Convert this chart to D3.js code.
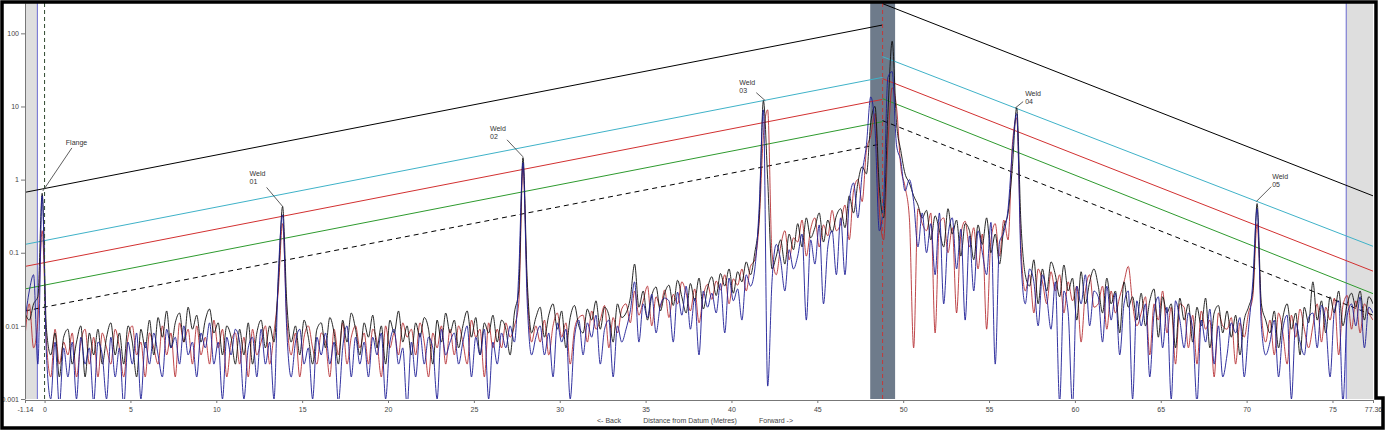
<!DOCTYPE html>
<html><head><meta charset="utf-8">
<script src="https://cdn.jsdelivr.net/npm/d3@7"></script>
<style>html,body{margin:0;padding:0;background:#fff;}svg{display:block;}text{font-family:"Liberation Sans",Arial,sans-serif;}</style>
</head><body><svg id="c" width="1387" height="431"></svg>
<script>
// ---------- data ----------
const xStart = -1.14, xEnd = 77.36, sampleStep = 0.25;
const xTicks = [-1.14, 0, 5, 10, 15, 20, 25, 30, 35, 40, 45, 50, 55, 60, 65, 70, 75, 77.36];
const yTicks = [0.001, 0.01, 0.1, 1, 10, 100];
const yTickLabels = ["0.001", "0.01", "0.1", "1", "10", "100"];
const xTitle = "Distance from Datum (Metres)";
const backLabel = "<- Back", forwardLabel = "Forward ->";

const traceBlack = [
.015,.012,.02,.025,.65,.009,.004,.008,.002,.007,
.009,.003,.006,.010,.002,.008,.004,.009,.003,.007,
.011,.004,.008,.003,.010,.006,.002,.009,.005,.012,
.004,.013,.007,.016,.005,.011,.015,.006,.018,.009,
.014,.006,.012,.017,.008,.011,.004,.010,.007,.003,
.009,.004,.011,.003,.008,.012,.005,.010,.006,.04,
.43,.02,.006,.010,.004,.012,.007,.003,.009,.011,
.005,.013,.008,.003,.012,.006,.015,.009,.004,.011,
.007,.014,.005,.010,.003,.012,.008,.016,.006,.010,
.004,.011,.007,.013,.009,.003,.012,.006,.015,.008,
.012,.005,.010,.016,.007,.013,.004,.011,.008,.014,
.006,.012,.009,.004,.015,.03,2.0,.04,.008,.013,
.018,.007,.014,.020,.009,.016,.005,.013,.019,.010,
.008,.017,.012,.022,.009,.018,.014,.006,.020,.013,
.015,.024,.07,.018,.030,.012,.026,.034,.016,.028,
.036,.019,.042,.025,.015,.038,.022,.045,.017,.033,
.047,.026,.052,.035,.060,.028,.055,.040,.075,.050,
.10,.30,12,1.0,.06,.09,.15,.07,.18,.11,
.25,.12,.30,.16,.22,.35,.14,.28,.19,.32,
.40,.22,.6,.35,.9,1.5,1.2,6,10,.8,
.3,8,78,6,2.5,1.2,.9,.6,.45,.3,
.38,.15,.32,.20,.12,.40,.18,.28,.09,.25,
.20,.08,.24,.13,.30,.10,.18,.07,.22,.35,
1.5,9.6,.25,.05,.035,.08,.02,.06,.03,.075,
.05,.025,.068,.03,.045,.012,.055,.02,.04,.06,
.035,.015,.045,.02,.03,.008,.04,.018,.025,.012,
.028,.01,.022,.032,.007,.025,.015,.02,.005,.024,
.012,.02,.006,.018,.01,.024,.005,.015,.019,.008,
.016,.007,.014,.004,.012,.018,.03,.47,.02,.012,
.008,.016,.005,.013,.02,.009,.015,.004,.018,.011,
.04,.012,.022,.008,.025,.015,.03,.01,.02,.028,
.018,.03,.012,.025,.02];

const traceRed = [
.007,.02,.005,.012,.2,.006,.002,.009,.003,.006,
.004,.008,.002,.006,.009,.003,.007,.002,.008,.005,
.003,.009,.005,.002,.007,.010,.004,.006,.002,.008,
.005,.003,.010,.004,.008,.002,.011,.006,.009,.003,
.010,.004,.007,.003,.012,.005,.009,.002,.006,.008,
.003,.007,.002,.009,.004,.006,.010,.003,.008,.03,
.25,.012,.004,.008,.002,.007,.010,.005,.003,.008,
.006,.002,.009,.004,.011,.003,.007,.010,.005,.008,
.003,.009,.006,.002,.010,.005,.008,.004,.011,.007,
.009,.004,.011,.006,.002,.008,.005,.010,.003,.009,
.004,.010,.006,.003,.012,.007,.009,.002,.011,.005,
.009,.005,.011,.007,.010,.02,1.5,.03,.006,.010,
.006,.012,.004,.010,.015,.007,.011,.003,.009,.013,
.014,.006,.016,.009,.012,.019,.005,.013,.008,.017,
.020,.011,.030,.014,.022,.035,.010,.025,.018,.031,
.013,.027,.020,.040,.028,.016,.032,.011,.026,.037,
.023,.041,.031,.050,.020,.044,.036,.060,.030,.065,
.08,.25,4,9,.10,.05,.12,.20,.08,.16,
.14,.28,.09,.21,.30,.12,.24,.17,.38,.20,
.25,.45,.15,.7,1.0,.5,2.5,4,8,.4,
.15,3,18,10,1.5,.8,.3,.005,.4,.25,
.20,.35,.008,.25,.30,.10,.22,.015,.18,.27,
.12,.22,.06,.18,.009,.15,.25,.09,.28,.15,
3,7,.12,.03,.05,.015,.06,.04,.02,.055,
.03,.05,.015,.04,.022,.035,.006,.03,.05,.018,
.02,.035,.009,.03,.015,.025,.04,.065,.02,.01,
.015,.025,.004,.02,.012,.03,.008,.018,.003,.02,
.018,.005,.014,.003,.016,.009,.012,.002,.015,.01,
.009,.013,.003,.011,.007,.015,.025,.25,.015,.006,
.012,.004,.015,.008,.003,.014,.007,.017,.009,.005,
.01,.02,.006,.018,.012,.024,.004,.019,.026,.009,
.022,.008,.02,.015,.012];

const traceBlue = [
.012,.03,.05,.003,.6,.004,.001,.006,.0008,.005,
.002,.006,.001,.007,.003,.005,.0009,.006,.004,.001,
.007,.002,.005,.0008,.006,.003,.008,.001,.006,.003,
.008,.004,.002,.009,.005,.007,.003,.010,.004,.006,
.002,.008,.005,.011,.003,.006,.001,.007,.004,.009,
.006,.001,.005,.007,.002,.009,.003,.006,.001,.05,
.33,.008,.002,.006,.009,.003,.005,.001,.007,.004,
.008,.003,.006,.0009,.005,.010,.002,.007,.003,.006,
.002,.007,.004,.008,.001,.006,.009,.003,.005,.0008,
.006,.002,.008,.003,.007,.005,.001,.009,.004,.006,
.008,.003,.006,.010,.002,.007,.004,.009,.001,.006,
.003,.008,.005,.010,.006,.05,1.7,.02,.004,.007,
.010,.004,.008,.002,.011,.006,.009,.001,.007,.012,
.004,.011,.007,.014,.003,.009,.012,.002,.010,.006,
.009,.016,.040,.006,.020,.013,.027,.008,.019,.024,
.022,.006,.029,.014,.035,.009,.024,.004,.030,.018,
.028,.015,.038,.008,.045,.022,.032,.012,.050,.035,
.06,.40,9,.0015,.04,.13,.08,.03,.11,.06,
.09,.18,.012,.15,.07,.24,.02,.12,.20,.05,
.3,.05,.5,.9,.3,1.2,3,13.5,5,.2,
.5,25,30,3,1.8,.7,1.0,.5,.12,.35,
.10,.25,.05,.35,.02,.17,.30,.06,.21,.012,
.17,.03,.20,.10,.05,.26,.003,.14,.19,.4,
2.5,8,.08,.02,.06,.04,.01,.05,.025,.009,
.04,.0009,.03,.015,.0008,.035,.02,.05,.01,.03,
.025,.006,.035,.012,.028,.004,.02,.03,.001,.022,
.01,.02,.002,.015,.025,.005,.018,.001,.022,.012,
.005,.015,.009,.0009,.012,.006,.017,.003,.01,.002,
.004,.011,.008,.013,.002,.009,.04,.40,.01,.004,
.006,.012,.002,.009,.014,.001,.011,.006,.004,.013,
.015,.005,.019,.011,.002,.016,.022,.0009,.014,.02,
.01,.025,.005,.018,.015];

// DAC / threshold lines (value at start and end of each side)
const dacNames = ["limit", "upper", "middle", "lower", "reference"];
const dacLeftX = [-1.14, 48.8];
const dacLeftStart = [0.67, 0.13, 0.065, 0.032, 0.016];
const dacLeftEnd = [130, 25, 12.5, 6.2, 3.1];
const dacRightX = [48.8, 77.36];
const dacRightStart = [255, 48, 24, 12.8, 6.4];
const dacRightEnd = [0.6, 0.1225, 0.056, 0.0276, 0.014];

// zones and markers (metres)
const endZones = [[-1.14, -0.42], [75.8, 77.36]];
const testZone = [48.08, 49.53];
const datumX = 0, testCentreX = 48.8;

// features
const featureNames = ["Flange", "Weld\n01", "Weld\n02", "Weld\n03", "Weld\n04", "Weld\n05"];
const featureX = [-0.1, 13.86, 27.86, 41.97, 56.52, 70.56];
const featureValue = [0.7, 0.43, 2.05, 12, 9.5, 0.5];

// ---------- styles / layout ----------
const dacColors = ["#000000", "#3fb2c8", "#d23030", "#2e9a2e", "#000000"];
const dacDash = [null, null, null, null, "5,4"];
const traceStyles = [
  {data: traceRed, color: "#b3262a", op: 0.85},
  {data: traceBlack, color: "#111111", op: 0.9},
  {data: traceBlue, color: "#1d1d96", op: 0.9}
];
// [text dx, text dy, leader dx, leader dy] relative to the feature peak
const labelOffsets = [[23, -46, 29, -43], [-33, -30, -16, -19], [-33, -26, -16, -17], [-26, -16, -9, -8], [10, -12.5, 8, -6.5], [16, -23, 15, -15]];

const plot = {left: 25, right: 1373, top: 3, bottom: 399};
const svg = d3.select("#c");
svg.append("rect").attr("width", 1387).attr("height", 431).attr("fill", "#fff");

const x = d3.scaleLinear().domain([xStart, xEnd]).range([plot.left, plot.right]);
const y = d3.scaleLog().domain([0.001, 260]).range([plot.bottom, plot.top]);

svg.append("defs").append("clipPath").attr("id", "clip")
  .append("rect").attr("x", plot.left).attr("y", plot.top)
  .attr("width", plot.right - plot.left).attr("height", plot.bottom - plot.top);

const g = svg.append("g").attr("clip-path", "url(#clip)");

// end zones
g.selectAll("rect.zone").data(endZones).enter().append("rect")
  .attr("x", d => x(d[0])).attr("width", d => x(d[1]) - x(d[0]))
  .attr("y", plot.top).attr("height", plot.bottom - plot.top)
  .attr("fill", "#dedede");
g.selectAll("line.zb").data([endZones[0][1], endZones[1][0]]).enter().append("line")
  .attr("x1", d => x(d)).attr("x2", d => x(d)).attr("y1", plot.top).attr("y2", plot.bottom)
  .attr("stroke", "#6a6ad0").attr("stroke-width", 1);
// test zone
g.append("rect").attr("x", x(testZone[0])).attr("width", x(testZone[1]) - x(testZone[0]))
  .attr("y", plot.top).attr("height", plot.bottom - plot.top).attr("fill", "#6e7b8b");

// DAC lines
dacNames.forEach((n, k) => {
  [[dacLeftX, dacLeftStart[k], dacLeftEnd[k]], [dacRightX, dacRightStart[k], dacRightEnd[k]]].forEach(s => {
    g.append("line")
      .attr("x1", x(s[0][0])).attr("y1", y(s[1]))
      .attr("x2", x(s[0][1])).attr("y2", y(s[2]))
      .attr("stroke", dacColors[k]).attr("stroke-width", 1)
      .attr("stroke-dasharray", dacDash[k]);
  });
});

// traces
const line = d3.line()
  .x((d, i) => x(xStart + i * sampleStep))
  .y(d => y(Math.max(d, 0.0002)))
  .curve(d3.curveMonotoneX);
traceStyles.forEach(t => {
  g.append("path").attr("d", line(t.data)).attr("fill", "none")
    .attr("stroke", t.color).attr("stroke-width", 1).attr("stroke-opacity", t.op)
    .attr("stroke-linejoin", "round");
});

// markers
g.append("line").attr("x1", x(datumX)).attr("x2", x(datumX)).attr("y1", plot.top).attr("y2", plot.bottom)
  .attr("stroke", "#2f4a2f").attr("stroke-width", 1).attr("stroke-dasharray", "4,3");
g.append("line").attr("x1", x(testCentreX)).attr("x2", x(testCentreX)).attr("y1", plot.top).attr("y2", plot.bottom)
  .attr("stroke", "#c23a3a").attr("stroke-width", 1).attr("stroke-dasharray", "4,3");

// axes
const fmtX = d => (d === -1.14 || d === 77.36) ? String(d) : d3.format("d")(d);
const xAxis = svg.append("g").attr("transform", `translate(0,${plot.bottom + 1})`)
  .call(d3.axisBottom(x).tickValues(xTicks).tickFormat(fmtX).tickSize(3).tickSizeOuter(0).tickPadding(4));
const yAxis = svg.append("g").attr("transform", `translate(${plot.left},0)`)
  .call(d3.axisLeft(y).tickValues(yTicks).tickFormat((d, i) => yTickLabels[i]).tickSize(4).tickSizeOuter(0).tickPadding(2));
[xAxis, yAxis].forEach(a => {
  a.select(".domain").attr("stroke", "#777");
  a.selectAll(".tick line").attr("stroke", "#777");
  a.selectAll("text").attr("fill", "#444").attr("font-size", "7px")
    .attr("font-family", '"Liberation Sans", Arial, sans-serif');
});

// axis titles
const tStyle = s => s.attr("fill", "#444").attr("font-size", "7px").attr("text-anchor", "middle");
svg.append("text").attr("x", 690).attr("y", 423).text(xTitle).call(tStyle);
svg.append("text").attr("x", 609).attr("y", 423).text(backLabel).call(tStyle);
svg.append("text").attr("x", 776).attr("y", 423).text(forwardLabel).call(tStyle);

// feature labels
featureNames.forEach((n, k) => {
  const px = x(featureX[k]), py = y(featureValue[k]);
  const o = labelOffsets[k];
  svg.append("line").attr("x1", px + o[2]).attr("y1", py + o[3]).attr("x2", px).attr("y2", py)
    .attr("stroke", "#333").attr("stroke-width", 0.8);
  const t = svg.append("text").attr("x", px + o[0]).attr("y", py + o[1])
    .attr("fill", "#333").attr("font-size", "7px");
  n.split("\n").forEach((s, j) => {
    t.append("tspan").attr("x", px + o[0]).attr("dy", j === 0 ? 0 : 8).text(s);
  });
});

// outer frame
svg.append("path").attr("d", "M2,2 H1376 V398 H1383 V428 H2 Z")
  .attr("fill", "none").attr("stroke", "#000").attr("stroke-width", 3.5);
</script></body></html>
